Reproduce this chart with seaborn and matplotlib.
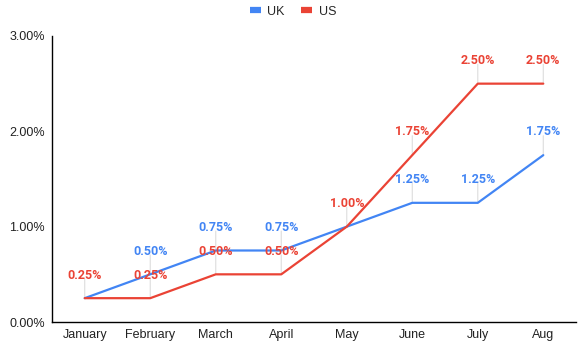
import seaborn as sns
import matplotlib.pyplot as plt
import pandas as pd
from matplotlib.lines import Line2D

# Chart data
months = ["January", "February", "March", "April", "May", "June", "July", "Aug"]
uk = [0.25, 0.50, 0.75, 0.75, 1.00, 1.25, 1.25, 1.75]
us = [0.25, 0.25, 0.50, 0.50, 1.00, 1.75, 2.50, 2.50]
# labels hidden where the chart hid them (overlaps)
uk_show = [False, True, True, True, False, True, True, True]
us_show = [True, True, True, True, True, True, True, True]
y_ticks = [0, 1, 2, 3]

blue = "#4285F4"
red = "#EA4335"

df = pd.DataFrame({
    "month": months * 2,
    "rate": uk + us,
    "country": ["UK"] * len(months) + ["US"] * len(months),
})

sns.set_style("white")
plt.rcParams["font.family"] = ["Liberation Sans", "DejaVu Sans"]

fig = plt.figure(figsize=(5.86, 3.48), dpi=100)
ax = fig.add_axes([0.0887, 0.0747, 0.8943, 0.8219])

sns.lineplot(data=df, x="month", y="rate", hue="country",
             palette={"UK": blue, "US": red}, linewidth=1.6,
             sort=False, legend=False, ax=ax, zorder=2)

ax.set_xlim(-0.5, len(months) - 0.5)
ax.set_ylim(0, 3)
ax.set_yticks(y_ticks)
ax.set_yticklabels([f"{t:.2f}%" for t in y_ticks])
ax.set_xlabel("")
ax.set_ylabel("")
ax.tick_params(axis="both", length=0, labelsize=9, colors="#222222")
ax.tick_params(axis="y", pad=5)
ax.tick_params(axis="x", pad=5)

for side in ["top", "right"]:
    ax.spines[side].set_visible(False)
for side in ["left", "bottom"]:
    ax.spines[side].set_color("black")
    ax.spines[side].set_linewidth(1)

# data labels with small leader lines
for values, show, color in [(uk, uk_show, blue), (us, us_show, red)]:
    for i, (v, s) in enumerate(zip(values, show)):
        if not s:
            continue
        ax.annotate("", xy=(i, v), xytext=(0, 14), textcoords="offset points",
                    arrowprops=dict(arrowstyle="-", color="#dddddd", lw=0.8,
                                    shrinkA=0, shrinkB=0), zorder=1)
        ax.annotate(f"{v:.2f}%", xy=(i, v), xytext=(0, 12),
                    textcoords="offset points", ha="center", va="bottom",
                    color=color, fontsize=9, fontweight="bold",
                    family=["Roboto", "DejaVu Sans"], zorder=3)

handles = [Line2D([], [], color=blue, lw=4.5, solid_capstyle="butt"),
           Line2D([], [], color=red, lw=4.5, solid_capstyle="butt")]
fig.legend(handles, ["UK", "US"], loc="center", bbox_to_anchor=(0.5, 0.966),
           ncol=2, frameon=False, fontsize=9, handlelength=0.9,
           handletextpad=0.5, columnspacing=1.3)

fig.savefig("out.png", dpi=100)
